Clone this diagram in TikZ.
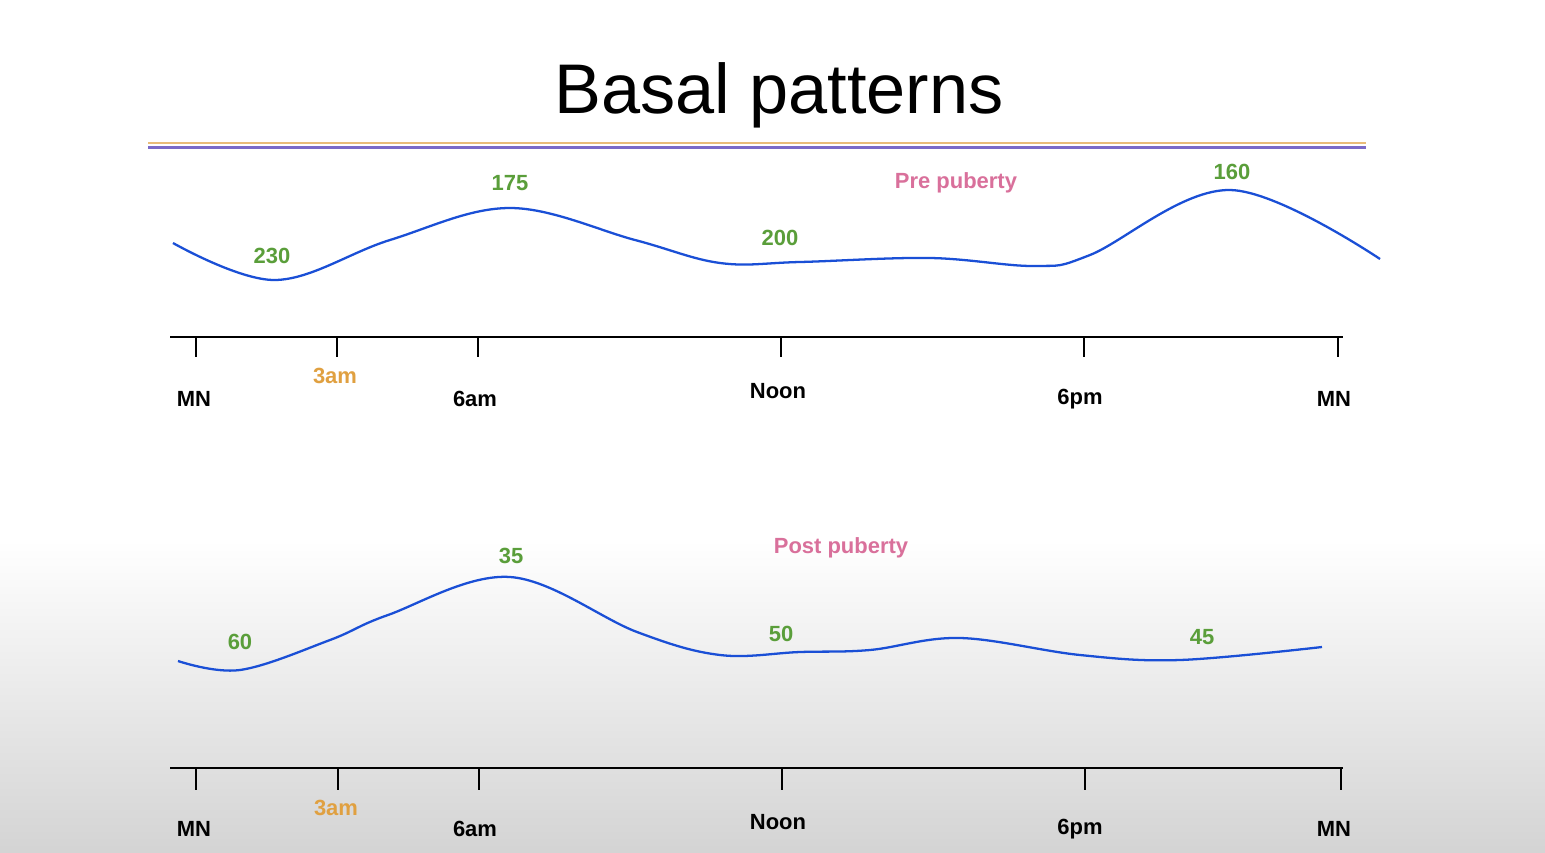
\documentclass[tikz,border=0pt]{standalone}
\usepackage{fontspec}
\setmainfont{Liberation Sans}
\definecolor{cgreen}{HTML}{5A9E3A}
\definecolor{cpink}{HTML}{D9709B}
\definecolor{corange}{HTML}{E0A040}
\definecolor{cblue}{HTML}{1A4FD6}
\definecolor{cpurple}{HTML}{7A6AC8}
\begin{document}
\begin{tikzpicture}[x=0.02cm,y=-0.02cm,
  lab/.style={font=\bfseries\fontsize{12.5}{14}\selectfont},
  num/.style={font=\bfseries\fontsize{12.5}{14}\selectfont,text=cgreen},
  curve/.style={cblue,line width=1.3pt},
  axis/.style={black,line width=1.3pt}]
\useasboundingbox (0,0) rectangle (1545,852);
\fill[white] (0,0) rectangle (1545,540);
\shade[top color=white,bottom color=black!17] (0,540) rectangle (1545,852);
\node (title) at (779,95) {\fontsize{40}{44}\selectfont Basal patterns};
\draw[corange!70,line width=1.6pt] (148,143) -- (1366,143);
\draw[cpurple,line width=1.6pt] (148,147.5) -- (1366,147.5);
% axis 1
\draw[axis] (170,337) -- (1343,337);
\foreach \x in {196,337,478,781,1084,1338} \draw[axis] (\x,337) -- (\x,357);
\node[lab] (a1) at (194,399) {MN};
\node[lab,text=corange] (a2) at (335,376) {3am};
\node[lab] (a3) at (475,399) {6am};
\node[lab] (a4) at (778,391) {Noon};
\node[lab] (a5) at (1080,399) {6pm};
\node[lab] (a6) at (1334,399) {MN};
\draw[curve] plot[smooth,tension=0.6] coordinates {(173,243) (275,280) (390,240) (510,208) (635,240) (720,263) (800,262) (930,258) (1035,266) (1090,255) (1230,190) (1380,259)};
\node[num] (n1) at (272,256) {230};
\node[num] (n2) at (510,183) {175};
\node[num] (n3) at (780,238) {200};
\node[num] (n4) at (1232,172) {160};
\node[lab,text=cpink] (pre) at (956,183) {Pre puberty};
% axis 2
\draw[axis] (170,768) -- (1343,768);
\foreach \x in {196,338,479,782,1085,1341} \draw[axis] (\x,768) -- (\x,790);
\node[lab] (b1) at (194,829) {MN};
\node[lab,text=corange] (b2) at (336,808) {3am};
\node[lab] (b3) at (475,829) {6am};
\node[lab] (b4) at (778,822) {Noon};
\node[lab] (b5) at (1080,829) {6pm};
\node[lab] (b6) at (1334,829) {MN};
\draw[curve] plot[smooth,tension=0.6] coordinates {(178,661) (240,670) (330,640) (388,615) (510,577) (637,632) (720,655) (800,652) (870,650) (960,638) (1080,655) (1180,660) (1322,647)};
\node[num] (m1) at (511,556) {35};
\node[num] (m2) at (240,642) {60};
\node[num] (m3) at (781,634) {50};
\node[num] (m4) at (1202,637) {45};
\node[lab,text=cpink] (post) at (841,548) {Post puberty};
\end{tikzpicture}
\end{document}
